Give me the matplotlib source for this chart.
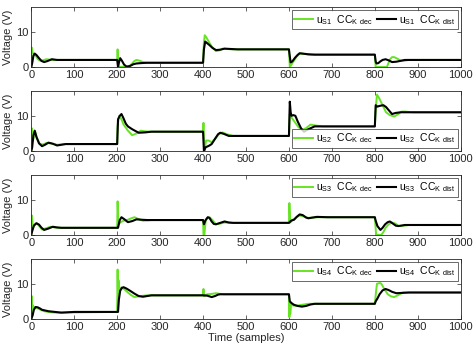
import matplotlib
matplotlib.use("Agg")
import matplotlib.pyplot as plt
import numpy as np

plt.rcParams['font.family'] = ['Liberation Sans', 'DejaVu Sans']
plt.rcParams['mathtext.default'] = 'regular'

# (time, voltage) breakpoints of each trace
s1_dec_t = [0, 1, 3, 6, 10, 15, 20, 27, 35, 42, 50, 200, 201, 203, 215, 228, 235, 240, 245, 252, 260, 270, 400, 402, 404, 408, 414, 420, 430, 438, 445, 455, 470, 600, 602, 606, 610, 617, 625, 635, 650, 800, 802, 828, 832, 836, 840, 845, 852, 860, 870, 880, 1000]
s1_dec_v = [0, 5.5, 4, 3.8, 3.2, 2.3, 1.8, 1.9, 2.2, 2.1, 2, 2, 5, 0, 0.1, 0.2, 1.0, 1.7, 2, 1.8, 1.4, 1.2, 1.2, 7, 9, 8.3, 7, 5.8, 4.5, 4.7, 5.2, 5.1, 5, 5, 0, 0.7, 1.5, 2.8, 3.8, 3.7, 3.5, 3.5, 0, 0, 1.2, 2.3, 2.8, 2.8, 2.4, 1.8, 1.8, 2, 2]
s1_dist_t = [0, 2, 5, 8, 12, 18, 24, 30, 38, 48, 60, 200, 202, 204, 207, 211, 216, 222, 230, 238, 245, 255, 270, 400, 402, 405, 409, 415, 422, 430, 440, 450, 465, 480, 600, 602, 604, 608, 614, 620, 625, 632, 645, 660, 800, 802, 804, 808, 813, 818, 825, 832, 840, 850, 870, 1000]
s1_dist_v = [0, 1, 3.2, 3.8, 3.4, 2.5, 1.7, 1.4, 1.7, 2.2, 2, 2, 0, 1.2, 2.5, 1.8, 0.7, 0.1, 0.3, 0.8, 1, 1.1, 1.2, 1.2, 5, 7.2, 6.8, 6.2, 5.4, 4.8, 4.9, 5.2, 5.1, 5, 5, 3, 1.3, 1.6, 2.6, 3.4, 3.9, 3.8, 3.6, 3.5, 3.5, 1.5, 1, 1.1, 1.6, 2.0, 2.2, 1.9, 1.4, 1.5, 2, 2]

s2_dec_t = [0, 1, 4, 7, 9, 13, 20, 28, 35, 45, 60, 80, 100, 200, 201, 203, 205, 210, 215, 225, 235, 245, 255, 265, 280, 400, 401, 403, 407, 413, 420, 428, 437, 445, 455, 470, 600, 602, 606, 615, 622, 630, 640, 650, 665, 680, 800, 802, 805, 810, 818, 826, 835, 845, 855, 862, 870, 890, 1000]
s2_dec_v = [0, 6.5, 3, 5, 5.5, 3.8, 2, 1.9, 2.3, 2.2, 1.8, 2, 2, 2, 7, 9, 10, 9, 7.5, 5.8, 4.5, 5.0, 5.8, 5.6, 5.5, 5.5, 8, 0, 3, 3, 2.5, 3.5, 4.8, 5.3, 4.8, 4.3, 4.3, 10.5, 9.5, 8, 6.8, 6, 6.5, 7.5, 7.2, 7, 7, 12, 16, 15, 13, 11, 10.2, 9.8, 10.5, 11.2, 11.2, 11, 11]
s2_dist_t = [0, 2, 5, 8, 12, 18, 25, 32, 40, 50, 60, 70, 80, 200, 202, 206, 210, 214, 220, 225, 235, 250, 265, 280, 400, 402, 406, 410, 415, 420, 428, 435, 440, 448, 460, 600, 602, 604, 606, 610, 615, 620, 628, 635, 645, 660, 700, 800, 802, 806, 811, 815, 820, 826, 833, 840, 848, 860, 1000]
s2_dist_v = [0, 1, 4.5, 5.8, 4, 2.2, 1.4, 1.8, 2.4, 2.1, 1.6, 1.8, 2, 2, 9, 10, 10.5, 9.5, 7.8, 7, 6.2, 5.2, 5.3, 5.5, 5.5, 0, 1.1, 1.3, 1.6, 2, 3.5, 4.8, 5.2, 4.9, 4.3, 4.3, 14, 11, 10, 10.2, 10, 8.5, 6.5, 5.5, 6.2, 7, 7, 7, 13, 12.6, 12.8, 12.9, 13, 12.5, 11.5, 10.5, 10.8, 11, 11]

s3_dec_t = [0, 1, 4, 8, 12, 18, 25, 35, 45, 55, 70, 200, 201, 203, 208, 215, 225, 233, 240, 250, 260, 280, 400, 401, 403, 406, 410, 415, 422, 430, 440, 450, 470, 600, 601, 603, 607, 612, 618, 625, 635, 645, 655, 670, 800, 803, 815, 820, 825, 832, 840, 848, 856, 866, 880, 1000]
s3_dec_v = [0, 5.5, 2, 3, 3.3, 2.6, 1.5, 1.9, 2.3, 2.1, 2, 2, 9.5, 3, 3.6, 4, 4.3, 4.7, 5, 4.5, 4, 4.2, 4.2, 0, 0, 4, 4.8, 5, 4.2, 3, 3.2, 3.5, 3.4, 3.4, 9, 3.5, 4.2, 4.5, 5.0, 5.5, 5.2, 4.8, 4.9, 5, 5, 0, 0, 0.8, 2, 3.0, 3.5, 3.2, 2.5, 2.6, 2.8, 2.8]
s3_dist_t = [0, 2, 6, 12, 18, 24, 30, 40, 50, 60, 70, 200, 202, 206, 210, 217, 225, 235, 245, 255, 270, 400, 402, 406, 411, 415, 420, 425, 430, 440, 450, 460, 470, 600, 605, 612, 618, 625, 632, 640, 645, 655, 665, 690, 800, 802, 806, 813, 818, 824, 830, 835, 842, 849, 855, 870, 1000]
s3_dist_v = [0, 1, 2.6, 3.3, 2.9, 2.0, 1.4, 1.8, 2.3, 2.1, 2, 2, 2, 4.2, 5, 4.4, 3.6, 3.9, 4.4, 4.3, 4.2, 4.2, 3, 4.2, 5, 4.8, 3.8, 3.1, 3, 3.4, 3.8, 3.5, 3.4, 3.4, 4, 4.3, 5.1, 5.8, 5.6, 4.9, 4.7, 4.9, 5.1, 5, 5, 4, 2.5, 1.4, 2.0, 3.0, 3.6, 3.8, 3.2, 2.6, 2.5, 2.8, 2.8]

s4_dec_t = [0, 1, 2, 3, 6, 10, 15, 22, 30, 45, 60, 200, 201, 202, 203, 205, 210, 216, 225, 232, 240, 255, 270, 400, 401, 402, 410, 420, 430, 440, 450, 600, 601, 602, 603, 605, 610, 620, 630, 645, 660, 800, 803, 805, 812, 815, 822, 830, 838, 845, 855, 865, 880, 1000]
s4_dec_v = [0, 6.5, 1, 4, 3.2, 3.3, 3, 2.6, 2.2, 1.9, 1.8, 2, 14, 6, 11, 8, 9, 8.5, 7.5, 6.8, 6.2, 6.5, 6.7, 6.7, 8.5, 6.5, 7, 7.1, 7.3, 7.1, 7, 7, 0.5, 5, 1.5, 4, 3.8, 3.8, 4, 4.3, 4.3, 4.3, 8, 10, 10.2, 10, 8.5, 7, 6.4, 6.2, 6.8, 7.5, 7.5, 7.5]
s4_dist_t = [0, 3, 6, 10, 15, 20, 25, 40, 55, 70, 85, 100, 200, 202, 204, 207, 211, 215, 222, 230, 240, 250, 260, 280, 400, 410, 420, 428, 435, 440, 450, 600, 602, 606, 612, 620, 630, 640, 650, 660, 800, 802, 806, 811, 818, 825, 832, 840, 850, 865, 880, 1000]
s4_dist_v = [0, 1, 2.6, 3.4, 3.3, 3.0, 2.6, 2.2, 2.0, 1.8, 1.9, 2, 2, 2, 5.5, 8, 8.8, 9, 8.6, 8, 7.2, 6.5, 6.3, 6.7, 6.7, 6.6, 6.2, 6.5, 6.9, 7, 7, 7, 5, 4.5, 4, 3.7, 3.5, 3.7, 4.1, 4.3, 4.3, 5, 5.8, 7, 8.1, 8.5, 8.2, 7.7, 7.3, 7.4, 7.5, 7.5]

names = ['S1', 'S2', 'S3', 'S4']
dec = [(s1_dec_t, s1_dec_v), (s2_dec_t, s2_dec_v), (s3_dec_t, s3_dec_v), (s4_dec_t, s4_dec_v)]
dist = [(s1_dist_t, s1_dist_v), (s2_dist_t, s2_dist_v), (s3_dist_t, s3_dist_v), (s4_dist_t, s4_dist_v)]
legend_loc = ['upper right', 'lower right', 'upper right', 'upper right']

green = '#66e325'
txt = '#262626'

fig = plt.figure(figsize=(4.74, 3.49), dpi=100)
bottoms = [0.808, 0.567, 0.327, 0.086]
for i in range(4):
    ax = fig.add_axes([0.066, bottoms[i], 0.906, 0.172])
    ax.plot(dec[i][0], dec[i][1], color=green, lw=1.4,
            label=r'u$_{%s}$  CC$_{K\ dec}$' % names[i])
    ax.plot(dist[i][0], dist[i][1], color='black', lw=1.5,
            label=r'u$_{%s}$  CC$_{K\ dist}$' % names[i])
    ax.set_xlim(0, 1000)
    ax.set_ylim(0, 17)
    ax.set_xticks(np.arange(0, 1001, 100))
    ax.set_yticks([0, 10])
    ax.tick_params(direction='in', top=True, right=True, labelsize=8,
                   colors=txt, length=3, width=0.5, pad=2)
    for sp in ax.spines.values():
        sp.set_color(txt)
        sp.set_linewidth(0.6)
    ax.set_ylabel('Voltage (V)', fontsize=8, color=txt, labelpad=2)
    leg = ax.legend(loc=legend_loc[i], ncol=2, fontsize=7.5, frameon=True,
                    fancybox=False, edgecolor=txt, handlelength=1.8,
                    columnspacing=0.4, handletextpad=0.3, borderpad=0.25,
                    borderaxespad=0.3)
    leg.get_frame().set_linewidth(0.6)
    if i == 3:
        ax.set_xlabel('Time (samples)', fontsize=8, color=txt, labelpad=1)

fig.savefig('out.png', dpi=100)
